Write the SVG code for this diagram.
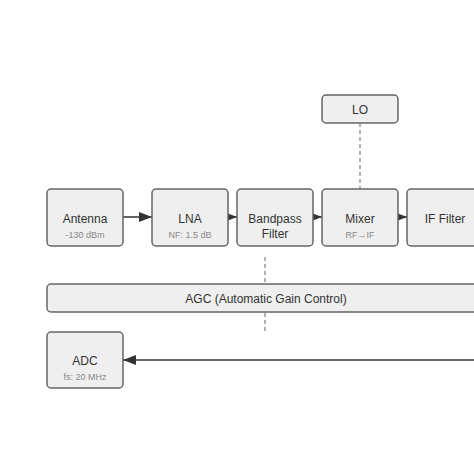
<svg xmlns="http://www.w3.org/2000/svg" width="474" height="474" viewBox="0 0 474 474">
<defs>
<style>
.box{fill:#efefef;stroke:#666;stroke-width:1.5}
.t{font-family:"Liberation Sans",Arial,sans-serif;font-size:12px;fill:#333;text-anchor:middle}
.s{font-family:"Liberation Sans",Arial,sans-serif;font-size:9px;fill:#888;text-anchor:middle}
.e{stroke:#333;stroke-width:1.5;fill:none}
.d{stroke:#999;stroke-width:1.5;stroke-dasharray:4 3;fill:none}
</style>
<marker id="ah" viewBox="0 0 13 10" refX="13" refY="5" markerWidth="13" markerHeight="10" markerUnits="userSpaceOnUse" orient="auto">
<path d="M0,0 L13,5 L0,10 Z" fill="#333"/>
</marker>
</defs>
<rect width="474" height="474" fill="#fff"/>
<g id="connectors">
<line class="d" x1="360" y1="123" x2="360" y2="189"/>
<line class="d" x1="265" y1="257" x2="265" y2="332"/>
<line class="e" x1="123" y1="217" x2="152" y2="217" marker-end="url(#ah)"/>
<line class="e" x1="228" y1="217" x2="237" y2="217" marker-end="url(#ah)"/>
<line class="e" x1="313" y1="217" x2="322" y2="217" marker-end="url(#ah)"/>
<line class="e" x1="398" y1="217" x2="407" y2="217" marker-end="url(#ah)"/>
<line class="e" x1="480" y1="360" x2="123" y2="360" marker-end="url(#ah)"/>
</g>
<g id="lo"><rect class="box" x="322" y="95" width="76" height="28" rx="4"/><text class="t" x="360" y="113.5">LO</text></g>
<g id="antenna"><rect class="box" x="47" y="189" width="76" height="57" rx="4"/><text class="t" x="85" y="222.5">Antenna</text><text class="s" x="85" y="238">-130 dBm</text></g>
<g id="lna"><rect class="box" x="152" y="189" width="76" height="57" rx="4"/><text class="t" x="190" y="222.5">LNA</text><text class="s" x="190" y="238">NF: 1.5 dB</text></g>
<g id="bandpass"><rect class="box" x="237" y="189" width="76" height="57" rx="4"/><text class="t" x="275" y="222.5">Bandpass</text><text class="t" x="275" y="237.5">Filter</text></g>
<g id="mixer"><rect class="box" x="322" y="189" width="76" height="57" rx="4"/><text class="t" x="360" y="222.5">Mixer</text><text class="s" x="360" y="238">RF→IF</text></g>
<g id="iffilter"><rect class="box" x="407" y="189" width="76" height="57" rx="4"/><text class="t" x="445" y="222.5">IF Filter</text></g>
<g id="agc"><rect class="box" x="47" y="284" width="440" height="28" rx="4"/><text class="t" x="266" y="302.5">AGC (Automatic Gain Control)</text></g>
<g id="adc"><rect class="box" x="47" y="332" width="76" height="56" rx="4"/><text class="t" x="85" y="365">ADC</text><text class="s" x="85" y="380">fs: 20 MHz</text></g>
</svg>
